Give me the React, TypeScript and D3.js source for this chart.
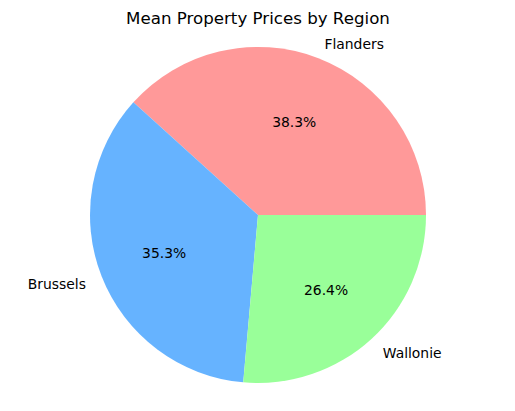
import React from "react";
import * as d3 from "d3";

const regions = ["Flanders", "Brussels", "Wallonie"];
const shares = [38.3, 35.3, 26.4];
const colors = ["#ff9999", "#66b3ff", "#99ff99"];
const title = "Mean Property Prices by Region";

export default function App() {
  const W = 515, H = 411;
  const cx = 258, cy = 215, r = 168;
  const pie = d3.pie<number>().sort(null).startAngle(Math.PI / 2).endAngle(Math.PI / 2 - 2 * Math.PI);
  const arcs = pie(shares);
  const arc = d3.arc<d3.PieArcDatum<number>>().innerRadius(0).outerRadius(r);
  const font = "DejaVu Sans, sans-serif";
  return (
    <svg width={W} height={H} style={{ position: "absolute", left: 0, top: 0, background: "#fff" }}>
      <text x={cx} y={24} textAnchor="middle" fontFamily={font} fontSize={16.67} fill="#000">{title}</text>
      <g transform={`translate(${cx},${cy})`}>
        {arcs.map((a, i) => (
          <path key={i} d={arc(a) || ""} fill={colors[i]} />
        ))}
        {arcs.map((a, i) => {
          const m = (a.startAngle + a.endAngle) / 2;
          const lx = 1.1 * r * Math.sin(m), ly = -1.1 * r * Math.cos(m);
          const px = 0.6 * r * Math.sin(m), py = -0.6 * r * Math.cos(m);
          return (
            <g key={"t" + i}>
              <text x={lx} y={ly} dy="0.45em" textAnchor={lx < 0 ? "end" : "start"} fontFamily={font} fontSize={13.9} fill="#000">{regions[i]}</text>
              <text x={px} y={py} dy="0.42em" textAnchor="middle" fontFamily={font} fontSize={13.9} fill="#000">{d3.format(".1f")(shares[i])}%</text>
            </g>
          );
        })}
      </g>
    </svg>
  );
}
